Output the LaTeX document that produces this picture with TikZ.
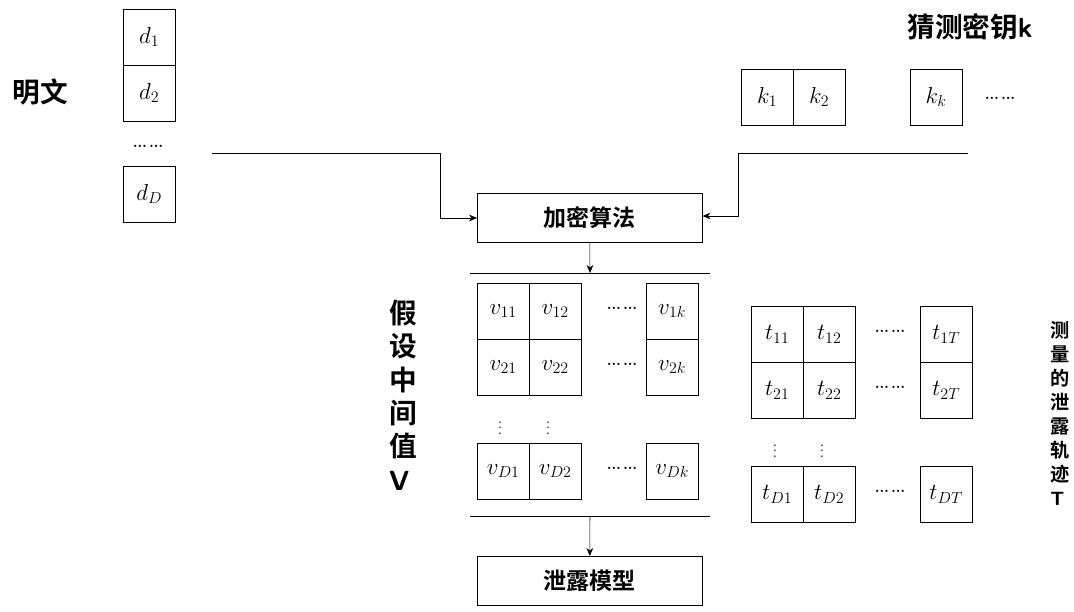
\documentclass[tikz,border=0pt]{standalone}
\usepackage{fontspec}
\newfontfamily\cjk{Noto Sans CJK SC}[BoldFont={Noto Sans CJK SC Bold}]
\usetikzlibrary{arrows.meta}
\begin{document}
\begin{tikzpicture}[x=0.75pt,y=-0.75pt,
  cell/.style={draw,minimum width=52*0.75pt,minimum height=56*0.75pt,inner sep=0pt,anchor=north west,font=\LARGE},
  wide/.style={draw,minimum width=225*0.75pt,minimum height=49*0.75pt,inner sep=0pt,anchor=north west,font=\cjk\bfseries\LARGE},
  lab/.style={font=\cjk\bfseries\huge},
  vlab/.style={font=\cjk\bfseries\huge,align=center,text width=1.2em,inner sep=0pt},
  dots/.style={font=\huge,inner sep=0pt},
  vd/.style={font=\large,inner sep=0pt},
  arr/.style={-{Stealth[length=6pt,width=5pt]}}]
\useasboundingbox (0,0) rectangle (1074,611);
\node[lab] (mw) at (40,92) {明文};
\node[cell] (d1) at (123,9) {$d_1$};
\node[cell] (d2) at (123,65) {$d_2$};
\node[dots] (dd) at (148,146) {\dots\dots};
\node[cell] (dD) at (123,166) {$d_D$};
\node[lab] (ck) at (970,27) {猜测密钥\textsf{k}};
\node[cell] (k1) at (741,69) {$k_1$};
\node[cell] (k2) at (793,69) {$k_2$};
\node[cell] (kk) at (910,69) {$k_k$};
\node[dots] (kd) at (1000,98) {\dots\dots};
\node[wide] (enc) at (477,193) {加密算法};
\coordinate (pl) at (212,153);
\coordinate (pr) at (968,153);
\draw[arr] (pl) -- (440,153) -- (440,218) -- (enc.west|-0,218);
\draw[arr] (pr) -- (738,153) -- (738,216) -- (enc.east|-0,216);
\coordinate (l1a) at (470,273); \coordinate (l1b) at (710,273);
\draw (l1a) -- (l1b);
\draw[arr] (enc.south) -- (590,273);
% V matrix
\foreach \r/\y/\s in {1/283/1,2/339/2,D/443/D}{
  \node[cell] (v\r1) at (477,\y) {$v_{\s1}$};
  \node[cell] (v\r2) at (529,\y) {$v_{\s2}$};
  \node[cell] (v\r k) at (646,\y) {$v_{\s k}$};
  \node[dots] at (622,\y+25) {\dots\dots};
}
\node[vd] at (500,424) {$\vdots$};
\node[vd] at (548,424) {$\vdots$};
\coordinate (l2a) at (470,516); \coordinate (l2b) at (710,516);
\draw (l2a) -- (l2b);
\node[wide] (leak) at (477,556) {泄露模型};
\draw[arr] (590,516) -- (leak.north);
\node[vlab] (vl) at (397,395) {假\\设\\中\\间\\值\\\textsf{V}};
% T matrix
\foreach \r/\y/\s in {1/306/1,2/362/2,D/466/D}{
  \node[cell] (t\r1) at (751,\y) {$t_{\s1}$};
  \node[cell] (t\r2) at (803,\y) {$t_{\s2}$};
  \node[cell] (t\r T) at (920,\y) {$t_{\s T}$};
  \node[dots] at (890,\y+25) {\dots\dots};
}
\node[vd] at (775,447) {$\vdots$};
\node[vd] at (822,447) {$\vdots$};
\node[vlab,font=\cjk\bfseries\Large,text width=1em] (tl) at (1057,413) {测\\量\\的\\泄\\露\\轨\\迹\\\textsf{T}};
\end{tikzpicture}
\end{document}
